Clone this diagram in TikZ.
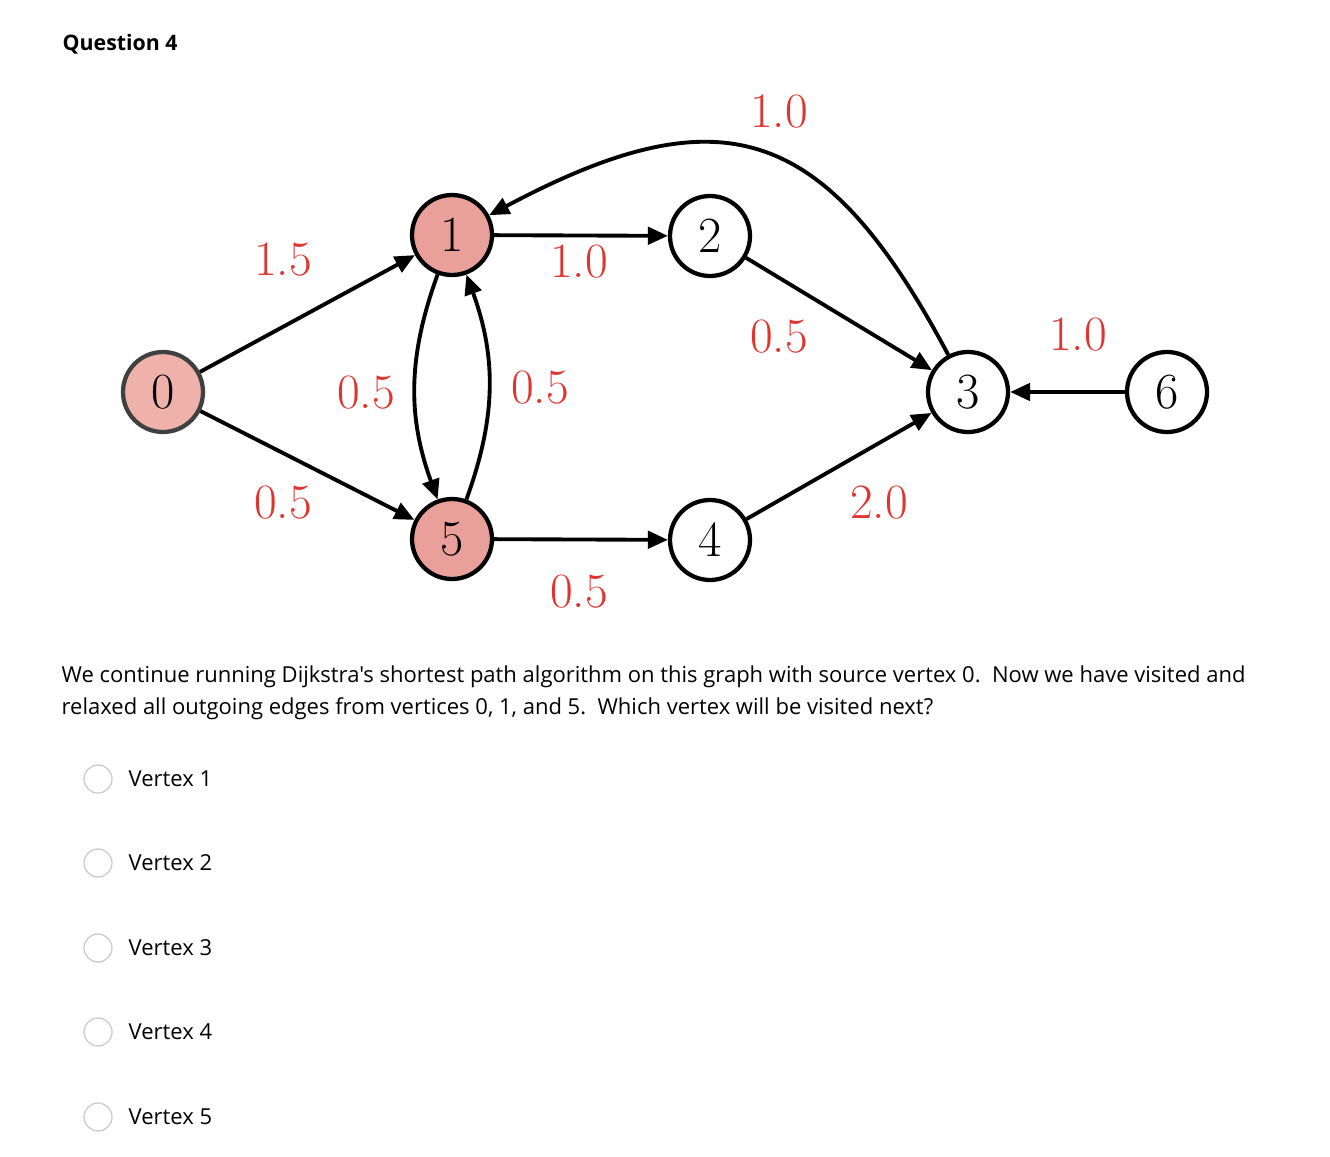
\documentclass[tikz,border=0pt]{standalone}
\usepackage{fontspec}
\newfontfamily\os{Open Sans}
\usetikzlibrary{arrows.meta}
\definecolor{lbl}{HTML}{E0342F}
\definecolor{vis}{HTML}{E9A09A}
\definecolor{src}{HTML}{EFB2AA}
\begin{document}
\begin{tikzpicture}[x=0.75pt,y=-0.75pt,
  v/.style={circle,draw=black,line width=3.2pt,minimum size=60pt,inner sep=0pt,fill=white,font=\fontsize{38}{40}\selectfont},
  e/.style={line width=2.9pt,-{Triangle[length=15pt,width=13pt]}},
  w/.style={text=lbl,font=\fontsize{37}{40}\selectfont},
  t/.style={font=\os\fontsize{16.5}{20}\selectfont,anchor=west},
  opt/.style={circle,draw=black!20,line width=1pt,minimum size=21pt,inner sep=0pt}]
\useasboundingbox (0,0) rectangle (1330,1156);
\node[t,font=\os\fontsize{16}{20}\selectfont\bfseries] (q) at (58,44) {Question 4};
\node[v,fill=src,draw=black!75] (n0) at (163,392) {0};
\node[v,fill=vis] (n1) at (452,235) {1};
\node[v] (n2) at (710,236) {2};
\node[v] (n3) at (968,392) {3};
\node[v] (n4) at (710,540) {4};
\node[v,fill=vis] (n5) at (452,539) {5};
\node[v] (n6) at (1167,392) {6};
\draw[e] (n0) -- (n1);
\draw[e] (n0) -- (n5);
\draw[e] (n1) -- (n2);
\draw[e] (n2) -- (n3);
\draw[e] (n4) -- (n3);
\draw[e] (n5) -- (n4);
\draw[e] (n6) -- (n3);
\draw[e] (n1) to[bend right=20] (n5);
\draw[e] (n5) to[bend right=20] (n1);
\draw[e] (n3) to[out=118,in=28,looseness=1.4] (n1);
\node[w] (l1) at (283,260) {1.5};
\node[w] (l2) at (579,262) {1.0};
\node[w] (l3) at (779,112) {1.0};
\node[w] (l4) at (779,337) {0.5};
\node[w] (l5) at (1078,335) {1.0};
\node[w] (l6) at (366,393) {0.5};
\node[w] (l7) at (540,388) {0.5};
\node[w] (l8) at (283,503) {0.5};
\node[w] (l9) at (879,503) {2.0};
\node[w] (l10) at (579,592) {0.5};
\node[t] (p1) at (57,677) {We continue running Dijkstra's shortest path algorithm on this graph with source vertex 0.\ \ Now we have visited and};
\node[t] (p2) at (57,709) {relaxed all outgoing edges from vertices 0, 1, and 5.\ \ Which vertex will be visited next?};
\foreach \i/\y in {1/779,2/863,3/948,4/1032,5/1117}{
  \node[opt] (o\i) at (98,\y) {};
  \node[t] (v\i) at (124,\y) {Vertex \i};
}
\end{tikzpicture}
\end{document}
